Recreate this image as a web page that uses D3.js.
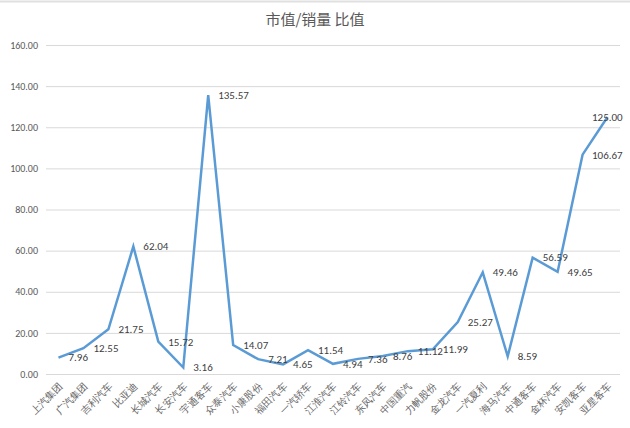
<!DOCTYPE html>
<html><head><meta charset="utf-8">
<script src="https://cdn.jsdelivr.net/npm/d3@7"></script>
<style>body{margin:0;background:#fff;}svg{display:block;font-family:"Noto Sans CJK SC","Microsoft YaHei",sans-serif;}</style>
</head><body><svg id="c" width="630" height="428"></svg>
<script>
const categories = ["上汽集团","广汽集团","吉利汽车","比亚迪","长城汽车","长安汽车","宇通客车","众泰汽车","小康股份","福田汽车","一汽轿车","江淮汽车","江铃汽车","东风汽车","中国重汽","力帆股份","金龙汽车","一汽夏利","海马汽车","中通客车","金杯汽车","安凯客车","亚星客车"];
const values = [7.96,12.55,21.75,62.04,15.72,3.16,135.57,14.07,7.21,4.65,11.54,4.94,7.36,8.76,11.12,11.99,25.27,49.46,8.59,56.59,49.65,106.67,125.00];
const yTicks = [0,20,40,60,80,100,120,140,160];
const title = "市值/销量 比值";

(function(){
const svg = d3.select("#c");
const W = 630, H = 428;
const mLeft = 46, mRight = 620, mTop = 45, mBottom = 374;

svg.append("line").attr("x1",0).attr("x2",W).attr("y1",1.5).attr("y2",1.5).attr("stroke","#e0e0e0").attr("stroke-width",2);

const x = d3.scalePoint().domain(categories).range([mLeft, mRight]).padding(0.5);
const y = d3.scaleLinear().domain([0,160]).range([mBottom, mTop]);

svg.append("text").attr("x",315).attr("y",25).attr("text-anchor","middle")
  .attr("font-size",15).attr("fill","#595959").text(title);

const yAxis = d3.axisLeft(y).tickValues(yTicks).tickFormat(d3.format(".2f")).tickSize(-(mRight-mLeft)).tickPadding(8);
const gy = svg.append("g").attr("transform",`translate(${mLeft},0)`).call(yAxis);
gy.select(".domain").remove();
gy.selectAll(".tick line").attr("stroke","#d9d9d9").attr("stroke-width",1);
gy.selectAll(".tick text").attr("fill","#595959").attr("font-size",10).attr("font-family","Carlito,Calibri,'Liberation Sans',sans-serif");

const xAxis = d3.axisBottom(x).tickSize(0).tickPadding(0);
const gx = svg.append("g").attr("transform",`translate(0,${mBottom})`).call(xAxis);
gx.select(".domain").remove();
gx.selectAll(".tick text")
  .attr("text-anchor","end").attr("fill","#666666").attr("font-size",10)
  .attr("dy",0).attr("y",0)
  .attr("transform","translate(4,13) rotate(-45)");

const line = d3.line().x((d,i)=>x(categories[i])).y(d=>y(d));
svg.append("path").datum(values).attr("d",line).attr("fill","none")
  .attr("stroke","#5B9BD5").attr("stroke-width",2.5).attr("stroke-linejoin","miter");

svg.append("g").selectAll("text").data(values).join("text")
  .attr("x",(d,i)=>Math.min(x(categories[i])+10, 592))
  .attr("y",d=>y(d))
  .attr("dy","0.35em")
  .attr("font-size",11).attr("fill","#404040")
  .attr("font-family","Carlito,Calibri,'Liberation Sans',sans-serif")
  .text(d=>d.toFixed(2));
})();
</script></body></html>
